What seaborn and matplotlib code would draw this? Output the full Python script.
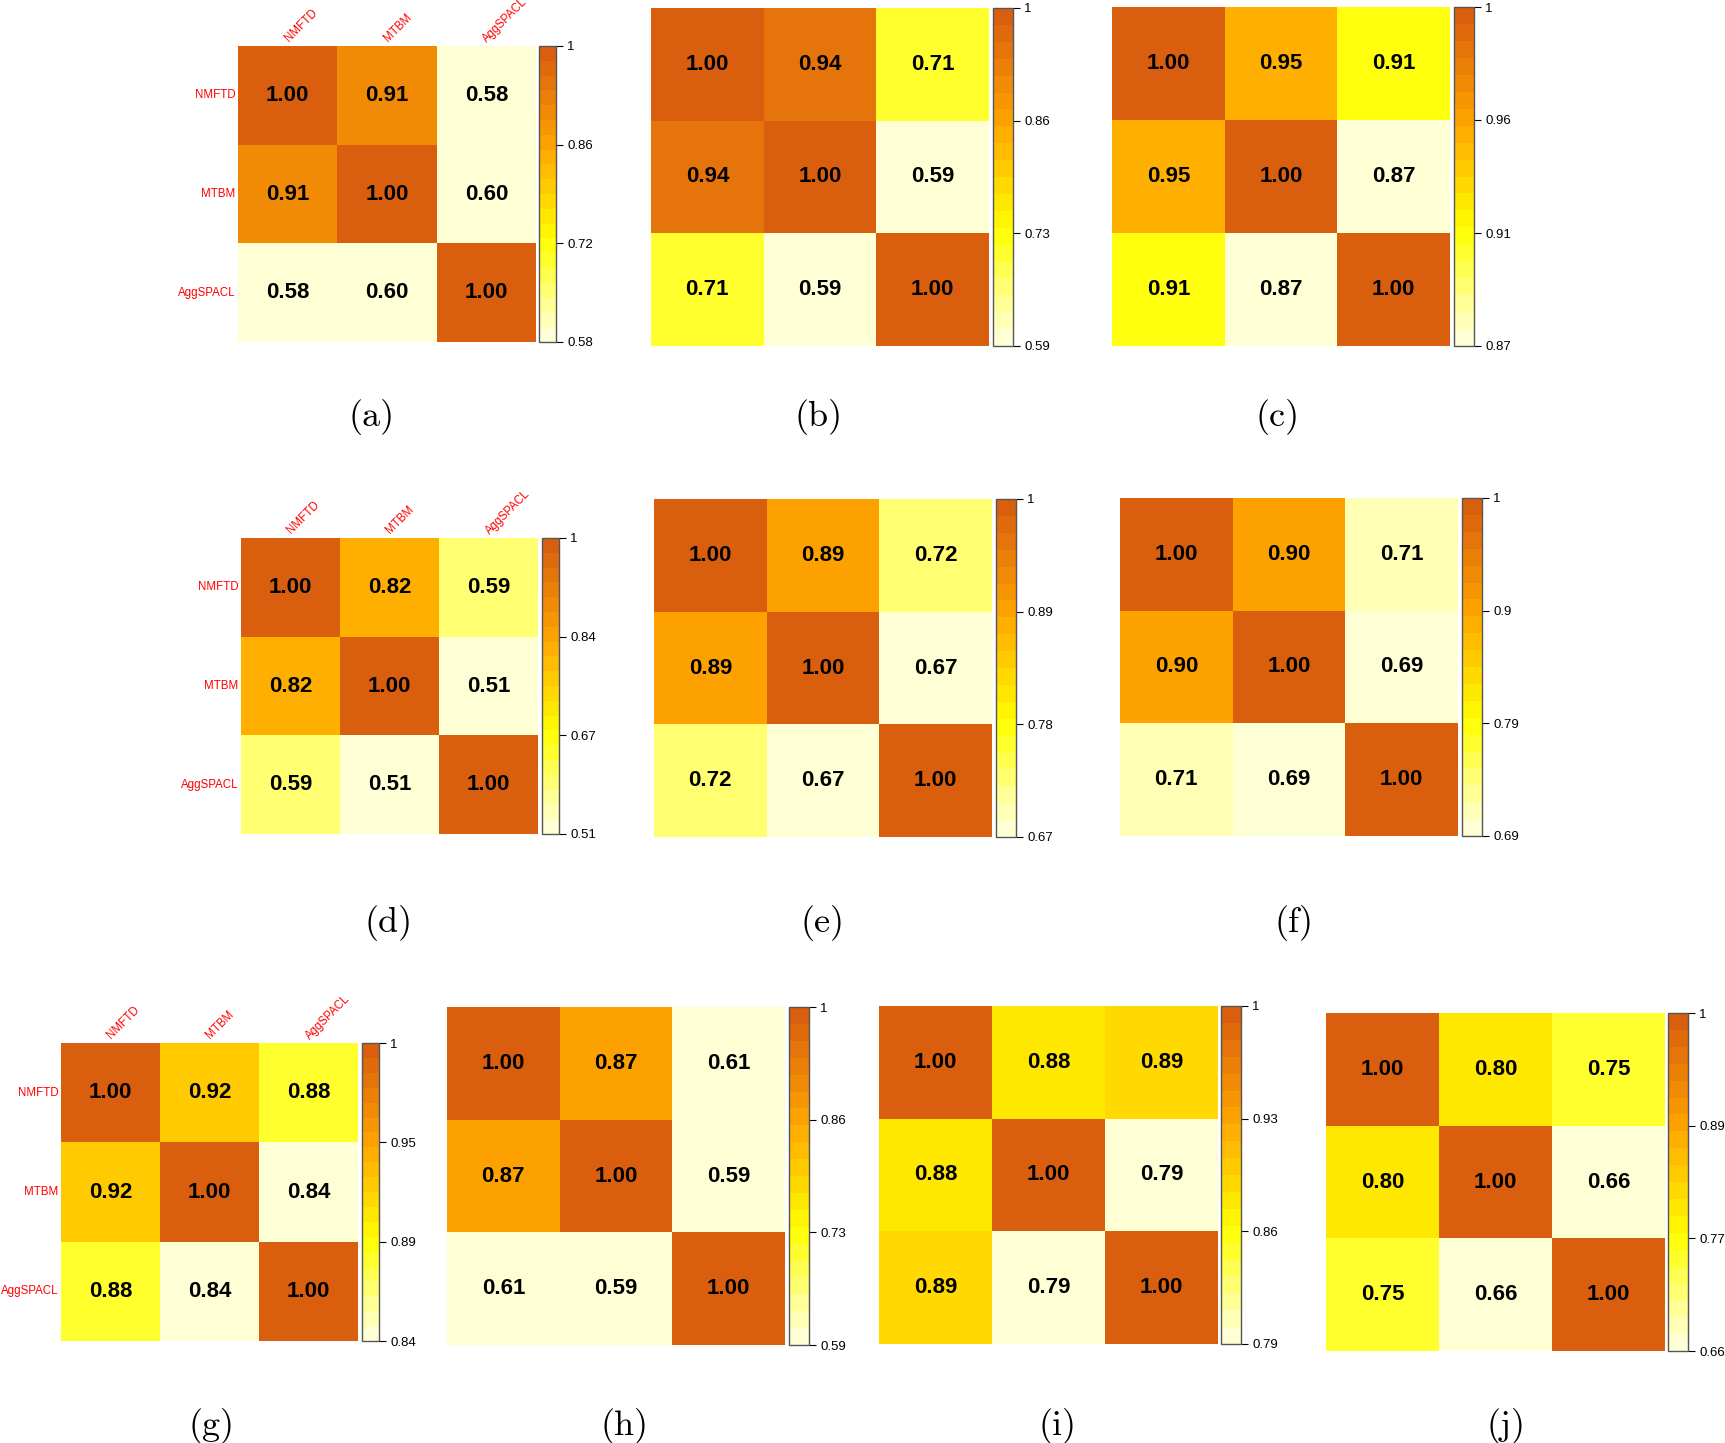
import numpy as np
import matplotlib
matplotlib.use("Agg")
import matplotlib.pyplot as plt
from matplotlib.colors import LinearSegmentedColormap, ListedColormap
import matplotlib.transforms as mtransforms
import seaborn as sns

# method names
methods = ["NMFTD", "MTBM", "AggSPACL"]

# off-diagonal correlations per panel: (NMFTD-MTBM, NMFTD-AggSPACL, MTBM-AggSPACL)
corr_a = [0.91, 0.58, 0.60]
corr_b = [0.94, 0.71, 0.59]
corr_c = [0.95, 0.91, 0.87]
corr_d = [0.82, 0.59, 0.51]
corr_e = [0.89, 0.72, 0.67]
corr_f = [0.90, 0.71, 0.69]
corr_g = [0.92, 0.88, 0.84]
corr_h = [0.87, 0.61, 0.59]
corr_i = [0.88, 0.89, 0.79]
corr_j = [0.80, 0.75, 0.66]

panels = ["a", "b", "c", "d", "e", "f", "g", "h", "i", "j"]
corrs = [corr_a, corr_b, corr_c, corr_d, corr_e, corr_f, corr_g, corr_h, corr_i, corr_j]
show_names = [True, False, False, True, False, False, True, False, False, False]

W, H = 1725, 1443

# pixel boxes: heatmap (x0, y0, x1, y1), colorbar x0, x1, caption (x, y)
layout = {
    "a": ((238, 46, 536, 342), (539, 556), (372, 417)),
    "b": ((651, 8, 989, 346), (993, 1013), (819, 417)),
    "c": ((1112, 7, 1450, 346), (1454, 1474), (1278, 417)),
    "d": ((241, 538, 538, 834), (542, 559), (389, 923)),
    "e": ((654, 499, 992, 837), (996, 1016), (822, 923)),
    "f": ((1120, 498, 1458, 836), (1462, 1482), (1294, 923)),
    "g": ((61, 1043, 358, 1341), (362, 379), (211, 1426)),
    "h": ((447, 1007, 785, 1345), (789, 809), (624, 1426)),
    "i": ((879, 1006, 1218, 1344), (1221, 1241), (1057, 1426)),
    "j": ((1326, 1013, 1665, 1351), (1668, 1688), (1506, 1426)),
}

ramp = LinearSegmentedColormap.from_list(
    "ylor", ["#FFFFD6", "#FFFF00", "#FFA500", "#D95F0E"])
cmap = ListedColormap(ramp(np.linspace(0, 1, 20)))

plt.rcParams["font.family"] = ["Liberation Sans", "DejaVu Sans"]

fig = plt.figure(figsize=(W / 100, H / 100), dpi=100)


def box(x0, y0, x1, y1):
    return [x0 / W, 1 - y1 / H, (x1 - x0) / W, (y1 - y0) / H]


for p, c, names in zip(panels, corrs, show_names):
    (hx0, hy0, hx1, hy1), (cx0, cx1), (tx, ty) = layout[p]
    mat = np.array([[1.0, c[0], c[1]],
                    [c[0], 1.0, c[2]],
                    [c[1], c[2], 1.0]])
    vmin = min(c)
    ax = fig.add_axes(box(hx0, hy0, hx1, hy1))
    cax = fig.add_axes(box(cx0, hy0, cx1, hy1))
    sns.heatmap(mat, ax=ax, cbar_ax=cax, cmap=cmap, vmin=vmin, vmax=1.0,
                annot=True, fmt=".2f",
                annot_kws={"color": "black", "weight": "bold", "size": 16})
    ax.tick_params(length=0)
    if names:
        ax.set_xticks(np.arange(3) + 0.5)
        ax.set_yticks(np.arange(3) + 0.5)
        ax.xaxis.tick_top()
        ax.set_xticklabels(methods, rotation=45, ha="left", va="bottom",
                           rotation_mode="anchor", color="red", fontsize=8.3)
        ax.set_yticklabels(methods, rotation=0, color="red", fontsize=8.3)
        ax.tick_params(axis="x", pad=1)
        ax.tick_params(axis="y", pad=2)
        shift = mtransforms.ScaledTranslation(3 / 100, 0, fig.dpi_scale_trans)
        for lab in ax.get_xticklabels():
            lab.set_transform(lab.get_transform() + shift)
    else:
        ax.set_xticks([])
        ax.set_yticks([])

    ticks = np.linspace(vmin, 1.0, 4)
    cb = ax.collections[0].colorbar
    cb.set_ticks(ticks)
    cb.set_ticklabels(["%g" % round(t, 2) for t in ticks])
    cb.outline.set_edgecolor("#555555")
    cb.outline.set_linewidth(1.0)
    cax.tick_params(length=5, width=0.8, labelsize=9.5, pad=3, color="black")

    fig.text(tx / W, 1 - ty / H, "(%s)" % p, ha="center", va="center",
             fontsize=26, fontfamily="cmr10")

fig.savefig("out.png", dpi=100)
